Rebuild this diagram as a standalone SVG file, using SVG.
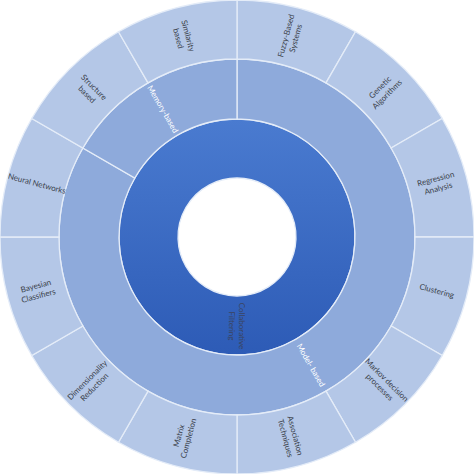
<svg xmlns="http://www.w3.org/2000/svg" width="474" height="474" viewBox="0 0 474 474">
<defs>
<linearGradient id="innerGrad" x1="0" y1="0" x2="0" y2="1">
<stop offset="0" stop-color="#4a7bd0"/>
<stop offset="1" stop-color="#2d5bb6"/>
</linearGradient>
</defs>
<style>
.outer{fill:#b4c7e7;stroke:#e4ecf8;stroke-width:1.3}
.middle{fill:#8eaadb;stroke:#e4ecf8;stroke-width:1.3}
.inner{fill:url(#innerGrad);stroke:#e4ecf8;stroke-width:1.3;fill-rule:evenodd}
.lbl{font-family:Lato,"Liberation Sans",sans-serif;font-size:8px;fill:#3a3f4a;text-anchor:middle}
.wlbl{font-family:Lato,"Liberation Sans",sans-serif;font-size:8px;fill:#ffffff;text-anchor:middle}
.dlbl{font-family:Lato,"Liberation Sans",sans-serif;font-size:8px;fill:#3a4460;text-anchor:middle}
</style>
<rect width="474" height="474" fill="#ffffff"/>
<g id="connectors"/>

<g id="collaborative-filtering">
<path class="inner" d="M 237 119 A 118 118 0 1 1 236.99 119 Z M 237 178 A 59 59 0 1 0 237.01 178 Z"/>
<text class="dlbl" transform="translate(237 326) rotate(90)"><tspan x="0" y="-2">Collaborative</tspan><tspan x="0" y="8">Filtering</tspan></text>
</g>

<g id="model-based">
<path class="middle" d="M 237 59 A 178 178 0 1 1 82.85 148 L 134.81 178 A 118 118 0 1 0 237 119 Z"/>
<text class="wlbl" transform="translate(311 365) rotate(60)" x="0" y="3">Model- based</text>
</g>

<g id="memory-based">
<path class="middle" d="M 82.85 148 A 178 178 0 0 1 237 59 L 237 119 A 118 118 0 0 0 134.81 178 Z"/>
<text class="wlbl" transform="translate(163 109) rotate(60)" x="0" y="3">Memory-based</text>
</g>

<g id="fuzzy-based-systems">
<path class="outer" d="M 237 0 A 237 237 0 0 1 355.5 31.75 L 326 82.85 A 178 178 0 0 0 237 59 Z"/>
<text class="lbl" transform="translate(290.6 37) rotate(-75)"><tspan x="0" y="-2">Fuzzy-Based</tspan><tspan x="0" y="8">Systems</tspan></text>
</g>

<g id="genetic-algorithms">
<path class="outer" d="M 355.5 31.75 A 237 237 0 0 1 442.25 118.5 L 391.15 148 A 178 178 0 0 0 326 82.85 Z"/>
<text class="lbl" transform="translate(383.4 90.6) rotate(-45)"><tspan x="0" y="-2">Genetic</tspan><tspan x="0" y="8">Algorithms</tspan></text>
</g>

<g id="regression-analysis">
<path class="outer" d="M 442.25 118.5 A 237 237 0 0 1 474 237 L 415 237 A 178 178 0 0 0 391.15 148 Z"/>
<text class="lbl" transform="translate(436.9 183.4) rotate(-15)"><tspan x="0" y="-2">Regression</tspan><tspan x="0" y="8">Analysis</tspan></text>
</g>

<g id="clustering">
<path class="outer" d="M 474 237 A 237 237 0 0 1 442.25 355.5 L 391.15 326 A 178 178 0 0 0 415 237 Z"/>
<text class="lbl" transform="translate(436.9 290.6) rotate(15)" x="0" y="3">Clustering</text>
</g>

<g id="markov-decision-processes">
<path class="outer" d="M 442.25 355.5 A 237 237 0 0 1 355.5 442.25 L 326 391.15 A 178 178 0 0 0 391.15 326 Z"/>
<text class="lbl" transform="translate(383.4 383.4) rotate(45)"><tspan x="0" y="-2">Markov decision</tspan><tspan x="0" y="8">processes</tspan></text>
</g>

<g id="association-techniques">
<path class="outer" d="M 355.5 442.25 A 237 237 0 0 1 237 474 L 237 415 A 178 178 0 0 0 326 391.15 Z"/>
<text class="lbl" transform="translate(290.6 436.9) rotate(75)"><tspan x="0" y="-2">Association</tspan><tspan x="0" y="8">Techniques</tspan></text>
</g>

<g id="matrix-completion">
<path class="outer" d="M 237 474 A 237 237 0 0 1 118.5 442.25 L 148 391.15 A 178 178 0 0 0 237 415 Z"/>
<text class="lbl" transform="translate(183.4 436.9) rotate(-75)"><tspan x="0" y="-2">Matrix</tspan><tspan x="0" y="8">Completion</tspan></text>
</g>

<g id="dimensionality-reduction">
<path class="outer" d="M 118.5 442.25 A 237 237 0 0 1 31.75 355.5 L 82.85 326 A 178 178 0 0 0 148 391.15 Z"/>
<text class="lbl" transform="translate(90.6 383.4) rotate(-45)"><tspan x="0" y="-2">Dimensionality</tspan><tspan x="0" y="8">Reduction</tspan></text>
</g>

<g id="bayesian-classifiers">
<path class="outer" d="M 31.75 355.5 A 237 237 0 0 1 0 237 L 59 237 A 178 178 0 0 0 82.85 326 Z"/>
<text class="lbl" transform="translate(37.1 290.6) rotate(-15)"><tspan x="0" y="-2">Bayesian</tspan><tspan x="0" y="8">Classifiers</tspan></text>
</g>

<g id="neural-networks">
<path class="outer" d="M 0 237 A 237 237 0 0 1 31.75 118.5 L 82.85 148 A 178 178 0 0 0 59 237 Z"/>
<text class="lbl" transform="translate(37.1 183.4) rotate(15)" x="0" y="3">Neural Networks</text>
</g>

<g id="structure-based">
<path class="outer" d="M 31.75 118.5 A 237 237 0 0 1 118.5 31.75 L 148 82.85 A 178 178 0 0 0 82.85 148 Z"/>
<text class="lbl" transform="translate(90.6 90.6) rotate(45)"><tspan x="0" y="-2">Structure</tspan><tspan x="0" y="8">based</tspan></text>
</g>

<g id="similarity-based">
<path class="outer" d="M 118.5 31.75 A 237 237 0 0 1 237 0 L 237 59 A 178 178 0 0 0 148 82.85 Z"/>
<text class="lbl" transform="translate(183.4 37.1) rotate(75)"><tspan x="0" y="-2">Similarity</tspan><tspan x="0" y="8">based</tspan></text>
</g>
</svg>
